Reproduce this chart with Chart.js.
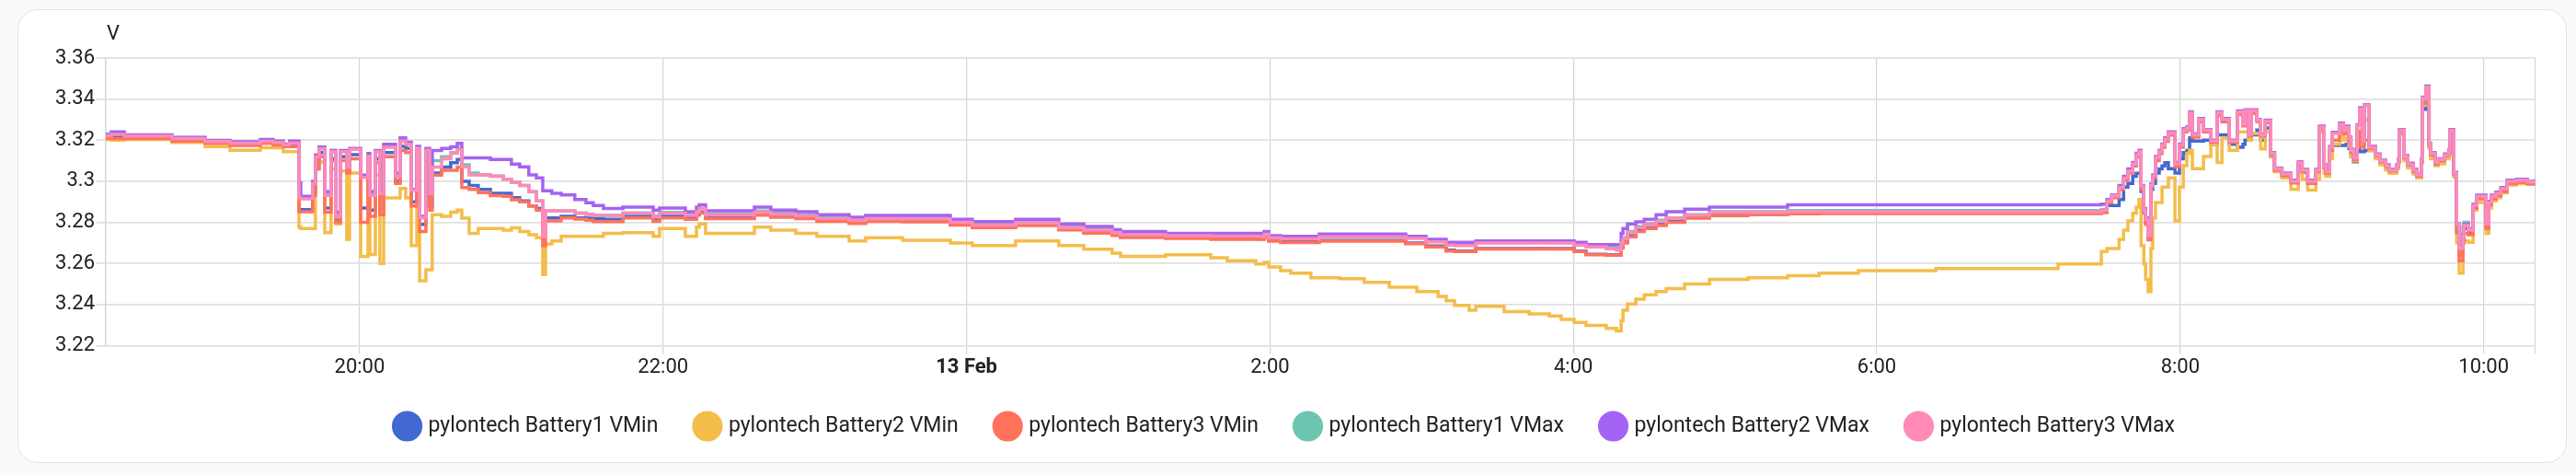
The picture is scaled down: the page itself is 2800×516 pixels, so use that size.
<!DOCTYPE html>
<html>
<head>
<meta charset="utf-8">
<script src="https://cdn.jsdelivr.net/npm/chart.js@4/dist/chart.umd.min.js"></script>
<style>
  html, body { margin: 0; padding: 0; background: #fafafa; overflow: hidden; }
  .card {
    position: absolute; left: 19px; top: 10px; width: 2771px; height: 493px;
    box-sizing: border-box; border: 1.5px solid #e0e0e0; border-radius: 22px; background: #fff;
  }
  .chart-box { position: absolute; left: 19px; top: 10px; width: 2771px; height: 493px; }
</style>
</head>
<body>
<div class="card"></div>
<div class="chart-box"><canvas id="chart"></canvas></div>
<script>
// time axis: minutes since 18:00 on 12 Feb
const xMin = 19.6;
const xMax = 980.5;
const xTickMinutes = [120, 240, 360, 480, 600, 720, 840, 960];
const xTickLabels = ['20:00', '22:00', '13 Feb', '2:00', '4:00', '6:00', '8:00', '10:00'];
const dayTick = '13 Feb';
const unit = 'V';

const minutes = [
  19.6, 21.8, 26.9, 45.8, 58.9, 68.7, 80.7, 85.8, 89.8, 92.3,
  96.0, 96.7, 101.4, 102.5, 104.0, 106.2, 108.7, 110.5, 112.4, 114.9,
  116.0, 120.4, 123.3, 124.0, 126.2, 128.0, 129.5, 134.2, 136.0, 138.2,
  140.4, 142.6, 143.7, 146.2, 147.7, 148.7, 152.4, 156.0, 158.6, 160.4,
  163.3, 166.9, 171.7, 176.8, 180.0, 183.3, 186.9, 189.9, 192.4, 193.5,
  196.0, 199.7, 205.1, 209.5, 212.4, 216.4, 224.1, 236.1, 238.6, 248.8,
  253.2, 254.3, 256.8, 276.1, 282.6, 292.5, 300.8, 313.6, 320.1, 334.7,
  353.6, 362.3, 379.4, 396.5, 406.4, 417.6, 420.9, 438.7, 456.6, 463.1,
  474.4, 477.7, 479.5, 484.2, 488.2, 496.2, 499.5, 507.5, 517.3, 527.2,
  533.7, 538.1, 541.7, 546.5, 549.7, 553.0, 558.8, 561.4, 572.6, 582.5,
  590.5, 595.2, 600.3, 605.0, 613.0, 617.0, 618.9, 619.6, 621.4, 624.7,
  628.0, 632.7, 636.7, 644.0, 653.8, 669.1, 684.7, 697.1, 712.7, 743.3,
  791.7, 808.8, 811.0, 812.9, 815.8, 817.6, 819.3, 821.2, 822.6, 823.7,
  824.5, 825.6, 826.3, 827.3, 828.4, 829.1, 830.2, 831.7, 832.8, 833.9,
  835.3, 837.9, 839.7, 841.2, 842.6, 843.7, 844.8, 847.4, 849.2, 852.1,
  854.6, 856.5, 859.4, 862.7, 864.8, 865.6, 867.0, 868.1, 870.3, 871.8,
  873.6, 875.8, 877.3, 880.2, 883.8, 886.7, 888.2, 890.4, 893.6, 895.1,
  896.9, 897.6, 899.1, 900.2, 903.0, 904.5, 905.6, 906.7, 907.5, 908.5,
  910.0, 911.0, 912.1, 912.8, 914.7, 917.2, 919.0, 921.2, 922.7, 925.6,
  926.3, 926.7, 928.5, 930.0, 932.1, 933.6, 935.4, 935.8, 937.2, 938.4,
  939.0, 940.8, 942.0, 944.5, 946.3, 946.7, 948.2, 949.3, 950.3, 951.8,
  952.2, 954.0, 955.8, 957.3, 960.9, 962.0, 963.1, 964.9, 966.8, 969.3,
  972.9, 977.3, 980.5,
];

const b1Min = [
  3.3215, 3.3218, 3.3214, 3.3202, 3.3188, 3.3180, 3.3188, 3.3182, 3.3172, 3.3176,
  3.2862, 3.2862, 3.2950, 3.3080, 3.3140, 3.2870, 3.3110, 3.2810, 3.3120, 3.3050,
  3.3130, 3.2870, 3.3100, 3.2860, 3.3110, 3.2860, 3.3140, 3.3000, 3.3170, 3.3160,
  3.2900, 3.3130, 3.2790, 3.3110, 3.2880, 3.3040, 3.3069, 3.3090, 3.3106, 3.3000,
  3.2980, 3.2960, 3.2942, 3.2942, 3.2920, 3.2905, 3.2880, 3.2867, 3.2822, 3.2822,
  3.2822, 3.2830, 3.2822, 3.2820, 3.2818, 3.2815, 3.2830, 3.2812, 3.2830, 3.2820,
  3.2840, 3.2850, 3.2825, 3.2845, 3.2830, 3.2825, 3.2810, 3.2800, 3.2810, 3.2808,
  3.2790, 3.2778, 3.2790, 3.2768, 3.2752, 3.2740, 3.2730, 3.2725, 3.2722, 3.2722,
  3.2720, 3.2730, 3.2712, 3.2706, 3.2706, 3.2706, 3.2712, 3.2712, 3.2712, 3.2712,
  3.2700, 3.2700, 3.2685, 3.2685, 3.2665, 3.2660, 3.2660, 3.2673, 3.2673, 3.2673,
  3.2673, 3.2673, 3.2660, 3.2645, 3.2642, 3.2642, 3.2680, 3.2705, 3.2735, 3.2760,
  3.2775, 3.2790, 3.2805, 3.2825, 3.2838, 3.2840, 3.2845, 3.2846, 3.2846, 3.2846,
  3.2846, 3.2850, 3.2882, 3.2882, 3.2911, 3.2972, 3.2990, 3.3024, 3.3039, 3.3039,
  3.2950, 3.2850, 3.2800, 3.2730, 3.2960, 3.2990, 3.3040, 3.3060, 3.3075, 3.3090,
  3.3061, 3.3040, 3.3110, 3.3140, 3.3150, 3.3211, 3.3196, 3.3196, 3.3200, 3.3180,
  3.3226, 3.3226, 3.3180, 3.3166, 3.3180, 3.3200, 3.3200, 3.3226, 3.3250, 3.3200,
  3.3260, 3.3120, 3.3050, 3.3025, 3.2995, 3.3080, 3.3045, 3.2990, 3.3045, 3.3250,
  3.3065, 3.3035, 3.3140, 3.3174, 3.3174, 3.3174, 3.3180, 3.3160, 3.3120, 3.3095,
  3.3200, 3.3144, 3.3144, 3.3150, 3.3150, 3.3120, 3.3090, 3.3068, 3.3046, 3.3068,
  3.3098, 3.3240, 3.3110, 3.3075, 3.3045, 3.3022, 3.3095, 3.3350, 3.3380, 3.3170,
  3.3125, 3.3080, 3.3095, 3.3120, 3.3140, 3.3235, 3.3030, 3.2760, 3.2640, 3.2720,
  3.2770, 3.2750, 3.2875, 3.2920, 3.2785, 3.2890, 3.2920, 3.2935, 3.2955, 3.2992,
  3.2998, 3.2990, 3.3000,
];

const b2Min = [
  3.3203, 3.3200, 3.3203, 3.3189, 3.3169, 3.3151, 3.3163, 3.3163, 3.3144, 3.3144,
  3.2777, 3.2770, 3.2770, 3.3060, 3.3094, 3.2750, 3.3060, 3.2793, 3.3050, 3.2717,
  3.3040, 3.2635, 3.3030, 3.2643, 3.3030, 3.2600, 3.2919, 3.2919, 3.2965, 3.2919,
  3.2687, 3.2880, 3.2516, 3.2570, 3.2570, 3.2837, 3.2830, 3.2850, 3.2860, 3.2820,
  3.2747, 3.2770, 3.2770, 3.2762, 3.2773, 3.2755, 3.2740, 3.2725, 3.2546, 3.2695,
  3.2710, 3.2732, 3.2732, 3.2732, 3.2732, 3.2747, 3.2750, 3.2732, 3.2770, 3.2732,
  3.2777, 3.2792, 3.2747, 3.2777, 3.2762, 3.2747, 3.2732, 3.2710, 3.2725, 3.2713,
  3.2700, 3.2687, 3.2710, 3.2687, 3.2669, 3.2650, 3.2635, 3.2642, 3.2628, 3.2613,
  3.2598, 3.2605, 3.2583, 3.2565, 3.2553, 3.2530, 3.2530, 3.2526, 3.2508, 3.2485,
  3.2485, 3.2463, 3.2463, 3.2440, 3.2418, 3.2396, 3.2373, 3.2391, 3.2366, 3.2355,
  3.2344, 3.2328, 3.2313, 3.2299, 3.2284, 3.2272, 3.2321, 3.2373, 3.2403, 3.2426,
  3.2448, 3.2463, 3.2478, 3.2500, 3.2523, 3.2530, 3.2541, 3.2553, 3.2565, 3.2575,
  3.2598, 3.2658, 3.2673, 3.2673, 3.2717, 3.2762, 3.2807, 3.2844, 3.2874, 3.2911,
  3.2687, 3.2598, 3.2523, 3.2463, 3.2673, 3.2822, 3.2897, 3.2897, 3.2972, 3.2972,
  3.3016, 3.2807, 3.2972, 3.3076, 3.3136, 3.3151, 3.3061, 3.3061, 3.3121, 3.3181,
  3.3091, 3.3211, 3.3151, 3.3241, 3.3241, 3.3241, 3.3200, 3.3233, 3.3233, 3.3158,
  3.3241, 3.3121, 3.3047, 3.3016, 3.2960, 3.3040, 3.3010, 3.2957, 3.3010, 3.3240,
  3.3040, 3.3024, 3.3110, 3.3180, 3.3220, 3.3200, 3.3210, 3.3170, 3.3120, 3.3099,
  3.3200, 3.3250, 3.3180, 3.3300, 3.3150, 3.3110, 3.3080, 3.3055, 3.3039, 3.3060,
  3.3090, 3.3230, 3.3100, 3.3065, 3.3035, 3.3016, 3.3090, 3.3370, 3.3400, 3.3160,
  3.3110, 3.3076, 3.3085, 3.3110, 3.3130, 3.3225, 3.3020, 3.2700, 3.2553, 3.2710,
  3.2710, 3.2703, 3.2860, 3.2897, 3.2747, 3.2870, 3.2905, 3.2920, 3.2945, 3.2982,
  3.2988, 3.2985, 3.2990,
];

const b3Min = [
  3.3208, 3.3208, 3.3208, 3.3196, 3.3184, 3.3174, 3.3184, 3.3177, 3.3169, 3.3169,
  3.2852, 3.2852, 3.2930, 3.3060, 3.3120, 3.2850, 3.3100, 3.2800, 3.3100, 3.3040,
  3.3110, 3.2800, 3.3080, 3.2830, 3.3090, 3.2837, 3.3120, 3.2990, 3.3150, 3.3140,
  3.2880, 3.3110, 3.2755, 3.3090, 3.2860, 3.3030, 3.3054, 3.3054, 3.3069, 3.2970,
  3.2960, 3.2945, 3.2930, 3.2927, 3.2910, 3.2900, 3.2880, 3.2860, 3.2687, 3.2807,
  3.2807, 3.2822, 3.2816, 3.2810, 3.2804, 3.2804, 3.2822, 3.2805, 3.2822, 3.2815,
  3.2835, 3.2845, 3.2818, 3.2835, 3.2825, 3.2818, 3.2805, 3.2795, 3.2805, 3.2803,
  3.2787, 3.2775, 3.2785, 3.2763, 3.2748, 3.2736, 3.2726, 3.2722, 3.2718, 3.2718,
  3.2717, 3.2726, 3.2708, 3.2702, 3.2702, 3.2702, 3.2708, 3.2708, 3.2708, 3.2708,
  3.2696, 3.2696, 3.2680, 3.2680, 3.2660, 3.2658, 3.2658, 3.2670, 3.2670, 3.2670,
  3.2670, 3.2670, 3.2658, 3.2642, 3.2640, 3.2640, 3.2675, 3.2700, 3.2730, 3.2755,
  3.2770, 3.2785, 3.2800, 3.2820, 3.2833, 3.2838, 3.2842, 3.2843, 3.2843, 3.2843,
  3.2843, 3.2848, 3.2895, 3.2920, 3.2960, 3.3005, 3.3040, 3.3075, 3.3120, 3.3135,
  3.2960, 3.2845, 3.2790, 3.2715, 3.2975, 3.3015, 3.3100, 3.3135, 3.3165, 3.3195,
  3.3225, 3.3070, 3.3165, 3.3240, 3.3250, 3.3320, 3.3215, 3.3290, 3.3240, 3.3190,
  3.3320, 3.3290, 3.3190, 3.3325, 3.3270, 3.3330, 3.3220, 3.3330, 3.3290, 3.3220,
  3.3285, 3.3130, 3.3055, 3.3028, 3.2992, 3.3085, 3.3048, 3.2990, 3.3048, 3.3255,
  3.3068, 3.3040, 3.3150, 3.3200, 3.3240, 3.3230, 3.3240, 3.3190, 3.3140, 3.3105,
  3.3240, 3.3166, 3.3166, 3.3200, 3.3160, 3.3125, 3.3095, 3.3072, 3.3050, 3.3072,
  3.3100, 3.3240, 3.3115, 3.3080, 3.3048, 3.3025, 3.3100, 3.3380, 3.3420, 3.3175,
  3.3130, 3.3085, 3.3100, 3.3125, 3.3145, 3.3240, 3.3035, 3.2750, 3.2613, 3.2700,
  3.2745, 3.2740, 3.2870, 3.2915, 3.2770, 3.2885, 3.2915, 3.2930, 3.2950, 3.2990,
  3.2995, 3.2988, 3.2998,
];

const b1Max = [
  3.3230, 3.3238, 3.3225, 3.3212, 3.3197, 3.3190, 3.3200, 3.3194, 3.3180, 3.3192,
  3.2935, 3.2925, 3.2995, 3.3125, 3.3168, 3.2940, 3.3150, 3.2840, 3.3148, 3.3072,
  3.3158, 3.3025, 3.3130, 3.2940, 3.3148, 3.2950, 3.3172, 3.3030, 3.3200, 3.3185,
  3.2958, 3.3165, 3.2825, 3.3155, 3.2945, 3.3100, 3.3120, 3.3140, 3.3160, 3.3080,
  3.3040, 3.3031, 3.3025, 3.3010, 3.2995, 3.2979, 3.2949, 3.2905, 3.2850, 3.2856,
  3.2856, 3.2856, 3.2845, 3.2840, 3.2834, 3.2834, 3.2845, 3.2832, 3.2848, 3.2840,
  3.2855, 3.2867, 3.2840, 3.2855, 3.2845, 3.2837, 3.2822, 3.2812, 3.2822, 3.2820,
  3.2805, 3.2790, 3.2800, 3.2780, 3.2768, 3.2755, 3.2745, 3.2738, 3.2736, 3.2736,
  3.2735, 3.2745, 3.2728, 3.2725, 3.2725, 3.2725, 3.2732, 3.2732, 3.2732, 3.2732,
  3.2725, 3.2725, 3.2710, 3.2710, 3.2695, 3.2692, 3.2692, 3.2702, 3.2702, 3.2705,
  3.2702, 3.2702, 3.2695, 3.2685, 3.2680, 3.2675, 3.2705, 3.2725, 3.2755, 3.2780,
  3.2795, 3.2810, 3.2822, 3.2837, 3.2852, 3.2852, 3.2858, 3.2858, 3.2858, 3.2858,
  3.2858, 3.2862, 3.2905, 3.2930, 3.2972, 3.3018, 3.3055, 3.3088, 3.3132, 3.3148,
  3.2978, 3.2865, 3.2820, 3.2738, 3.2985, 3.3028, 3.3118, 3.3148, 3.3178, 3.3208,
  3.3238, 3.3088, 3.3178, 3.3252, 3.3262, 3.3335, 3.3228, 3.3303, 3.3250, 3.3198,
  3.3335, 3.3303, 3.3198, 3.3340, 3.3280, 3.3345, 3.3228, 3.3345, 3.3298, 3.3228,
  3.3295, 3.3138, 3.3063, 3.3037, 3.3002, 3.3093, 3.3056, 3.3002, 3.3056, 3.3265,
  3.3078, 3.3048, 3.3168, 3.3235, 3.3280, 3.3250, 3.3265, 3.3213, 3.3153, 3.3116,
  3.3273, 3.3355, 3.3198, 3.3370, 3.3168, 3.3131, 3.3101, 3.3078, 3.3056, 3.3078,
  3.3108, 3.3250, 3.3123, 3.3086, 3.3056, 3.3033, 3.3108, 3.3400, 3.3440, 3.3183,
  3.3138, 3.3093, 3.3108, 3.3131, 3.3153, 3.3250, 3.3041, 3.2790, 3.2690, 3.2780,
  3.2800, 3.2770, 3.2885, 3.2930, 3.2796, 3.2900, 3.2930, 3.2945, 3.2966, 3.3002,
  3.3008, 3.2998, 3.3008,
];

const b2Max = [
  3.3226, 3.3241, 3.3226, 3.3214, 3.3199, 3.3192, 3.3203, 3.3196, 3.3181, 3.3196,
  3.2993, 3.2927, 3.3000, 3.3129, 3.3165, 3.2950, 3.3150, 3.2850, 3.3150, 3.3075,
  3.3160, 3.3030, 3.3135, 3.2950, 3.3150, 3.2960, 3.3180, 3.3040, 3.3211, 3.3190,
  3.2960, 3.3170, 3.2830, 3.3160, 3.2950, 3.3150, 3.3160, 3.3168, 3.3184, 3.3114,
  3.3114, 3.3114, 3.3106, 3.3106, 3.3084, 3.3070, 3.3031, 3.3016, 3.2954, 3.2954,
  3.2942, 3.2934, 3.2911, 3.2895, 3.2882, 3.2867, 3.2874, 3.2860, 3.2870, 3.2852,
  3.2874, 3.2885, 3.2856, 3.2874, 3.2860, 3.2852, 3.2837, 3.2825, 3.2834, 3.2834,
  3.2815, 3.2804, 3.2815, 3.2792, 3.2780, 3.2765, 3.2755, 3.2747, 3.2747, 3.2747,
  3.2747, 3.2755, 3.2735, 3.2732, 3.2732, 3.2732, 3.2743, 3.2743, 3.2743, 3.2743,
  3.2732, 3.2732, 3.2717, 3.2717, 3.2703, 3.2703, 3.2703, 3.2710, 3.2710, 3.2710,
  3.2710, 3.2710, 3.2703, 3.2692, 3.2692, 3.2692, 3.2747, 3.2770, 3.2792, 3.2803,
  3.2815, 3.2837, 3.2852, 3.2864, 3.2874, 3.2874, 3.2885, 3.2885, 3.2885, 3.2885,
  3.2885, 3.2889, 3.2911, 3.2934, 3.2979, 3.3024, 3.3060, 3.3091, 3.3136, 3.3151,
  3.2979, 3.2867, 3.2822, 3.2740, 3.2987, 3.3031, 3.3121, 3.3151, 3.3181, 3.3211,
  3.3241, 3.3091, 3.3181, 3.3256, 3.3265, 3.3338, 3.3230, 3.3305, 3.3252, 3.3200,
  3.3338, 3.3305, 3.3200, 3.3342, 3.3282, 3.3348, 3.3230, 3.3348, 3.3300, 3.3230,
  3.3298, 3.3140, 3.3065, 3.3040, 3.3005, 3.3095, 3.3058, 3.3005, 3.3058, 3.3268,
  3.3080, 3.3050, 3.3170, 3.3238, 3.3283, 3.3252, 3.3268, 3.3215, 3.3155, 3.3118,
  3.3275, 3.3358, 3.3200, 3.3372, 3.3170, 3.3133, 3.3103, 3.3080, 3.3058, 3.3080,
  3.3110, 3.3252, 3.3125, 3.3088, 3.3058, 3.3035, 3.3110, 3.3410, 3.3463, 3.3185,
  3.3140, 3.3095, 3.3110, 3.3133, 3.3155, 3.3252, 3.3043, 3.2795, 3.2680, 3.2740,
  3.2790, 3.2768, 3.2888, 3.2932, 3.2800, 3.2902, 3.2932, 3.2947, 3.2969, 3.3005,
  3.3010, 3.3000, 3.3010,
];

const b3Max = [
  3.3222, 3.3228, 3.3220, 3.3208, 3.3193, 3.3186, 3.3195, 3.3189, 3.3178, 3.3186,
  3.2920, 3.2915, 3.2990, 3.3120, 3.3158, 3.2930, 3.3144, 3.2830, 3.3144, 3.3069,
  3.3155, 3.3019, 3.3121, 3.2930, 3.3144, 3.2940, 3.3166, 3.3024, 3.3196, 3.3180,
  3.2956, 3.3160, 3.2822, 3.3151, 3.2940, 3.3069, 3.3110, 3.3136, 3.3154, 3.3070,
  3.3031, 3.3031, 3.3024, 3.3010, 3.2995, 3.2979, 3.2949, 3.2905, 3.2732, 3.2856,
  3.2856, 3.2856, 3.2845, 3.2840, 3.2834, 3.2834, 3.2845, 3.2828, 3.2845, 3.2835,
  3.2852, 3.2867, 3.2836, 3.2850, 3.2840, 3.2832, 3.2818, 3.2810, 3.2818, 3.2817,
  3.2800, 3.2787, 3.2798, 3.2775, 3.2762, 3.2750, 3.2740, 3.2735, 3.2733, 3.2733,
  3.2732, 3.2742, 3.2725, 3.2720, 3.2720, 3.2720, 3.2730, 3.2730, 3.2730, 3.2730,
  3.2722, 3.2722, 3.2705, 3.2705, 3.2690, 3.2687, 3.2687, 3.2700, 3.2700, 3.2700,
  3.2700, 3.2700, 3.2690, 3.2680, 3.2672, 3.2665, 3.2700, 3.2720, 3.2750, 3.2775,
  3.2790, 3.2805, 3.2820, 3.2835, 3.2848, 3.2850, 3.2852, 3.2852, 3.2852, 3.2852,
  3.2852, 3.2860, 3.2905, 3.2930, 3.2970, 3.3015, 3.3050, 3.3085, 3.3130, 3.3145,
  3.2975, 3.2860, 3.2815, 3.2735, 3.2980, 3.3025, 3.3115, 3.3145, 3.3175, 3.3205,
  3.3235, 3.3085, 3.3175, 3.3250, 3.3260, 3.3333, 3.3226, 3.3301, 3.3248, 3.3196,
  3.3333, 3.3301, 3.3196, 3.3337, 3.3278, 3.3343, 3.3226, 3.3343, 3.3296, 3.3226,
  3.3293, 3.3136, 3.3061, 3.3035, 3.3000, 3.3091, 3.3054, 3.3000, 3.3054, 3.3263,
  3.3076, 3.3047, 3.3166, 3.3233, 3.3278, 3.3248, 3.3263, 3.3211, 3.3151, 3.3114,
  3.3271, 3.3353, 3.3196, 3.3368, 3.3166, 3.3129, 3.3099, 3.3076, 3.3054, 3.3076,
  3.3106, 3.3248, 3.3121, 3.3084, 3.3054, 3.3031, 3.3106, 3.3405, 3.3458, 3.3181,
  3.3136, 3.3091, 3.3106, 3.3129, 3.3151, 3.3248, 3.3039, 3.2792, 3.2673, 3.2732,
  3.2785, 3.2762, 3.2882, 3.2927, 3.2792, 3.2897, 3.2927, 3.2942, 3.2964, 3.3000,
  3.3005, 3.2996, 3.3005,
];

const seriesLabels = [
  'pylontech Battery1 VMin',
  'pylontech Battery2 VMin',
  'pylontech Battery3 VMin',
  'pylontech Battery1 VMax',
  'pylontech Battery2 VMax',
  'pylontech Battery3 VMax',
];
const seriesValues = [b1Min, b2Min, b3Min, b1Max, b2Max, b3Max];
const seriesColors = ['#4269d0', '#f4bd4a', '#ff725c', '#6cc5b0', '#a463f2', '#ff8ab7'];

Chart.defaults.font.family = "Roboto, 'Noto Sans', sans-serif";
Chart.defaults.color = '#212121';

// unit shown above the value axis
const unitLabel = {
  id: 'unitLabel',
  afterDraw(chart) {
    const { ctx, chartArea } = chart;
    ctx.save();
    ctx.font = "22px Roboto, 'Noto Sans', sans-serif";
    ctx.fillStyle = '#212121';
    ctx.textAlign = 'left';
    ctx.textBaseline = 'middle';
    ctx.fillText(unit, chartArea.left + 1, chartArea.top - 26);
    ctx.restore();
  },
};

const datasets = seriesValues.map((values, i) => ({
  label: seriesLabels[i],
  data: minutes.map((m, j) => ({ x: m, y: values[j] })),
  borderColor: seriesColors[i],
  backgroundColor: seriesColors[i],
  borderWidth: 3.5,
  pointRadius: 0,
  stepped: 'before',
  order: seriesValues.length - 1 - i,
}));

const tickLabel = (value) => {
  const i = xTickMinutes.indexOf(value);
  return i < 0 ? '' : xTickLabels[i];
};

new Chart(document.getElementById('chart'), {
  type: 'line',
  data: { datasets },
  plugins: [unitLabel],
  options: {
    responsive: true,
    maintainAspectRatio: false,
    animation: false,
    events: [],
    layout: { padding: { left: 20, right: 34, top: 53, bottom: 18.5 } },
    scales: {
      x: {
        type: 'linear',
        min: xMin,
        max: xMax,
        afterBuildTicks: (axis) => {
          axis.ticks = xTickMinutes.concat([xMax]).map((value) => ({ value }));
        },
        afterFit: (axis) => { axis.height = 34; },
        grid: { color: '#d4d4d4', lineWidth: 1.2, tickLength: 9 },
        border: { display: false },
        ticks: {
          autoSkip: false,
          maxRotation: 0,
          padding: 2,
          color: '#212121',
          font: (c) => ({
            size: 22,
            weight: c.tick && tickLabel(c.tick.value) === dayTick ? 'bold' : 'normal',
          }),
          callback: (value) => tickLabel(value),
        },
      },
      y: {
        min: 3.22,
        max: 3.36,
        afterFit: (axis) => { axis.width = 76; },
        grid: { color: '#e0e0e0', lineWidth: 1.8, tickLength: 10 },
        border: { color: '#d6d6d6', width: 1.5 },
        ticks: {
          stepSize: 0.02,
          padding: 2,
          color: '#212121',
          font: { size: 22 },
          callback: (value) => String(+value.toFixed(2)),
        },
      },
    },
    plugins: {
      legend: {
        position: 'bottom',
        labels: {
          usePointStyle: true,
          pointStyle: 'circle',
          boxWidth: 23,
          boxHeight: 21,
          padding: 42,
          color: '#212121',
          font: { size: 23 },
          sort: (a, b) => a.datasetIndex - b.datasetIndex,
        },
      },
      tooltip: { enabled: false },
    },
  },
});
</script>
</body>
</html>
